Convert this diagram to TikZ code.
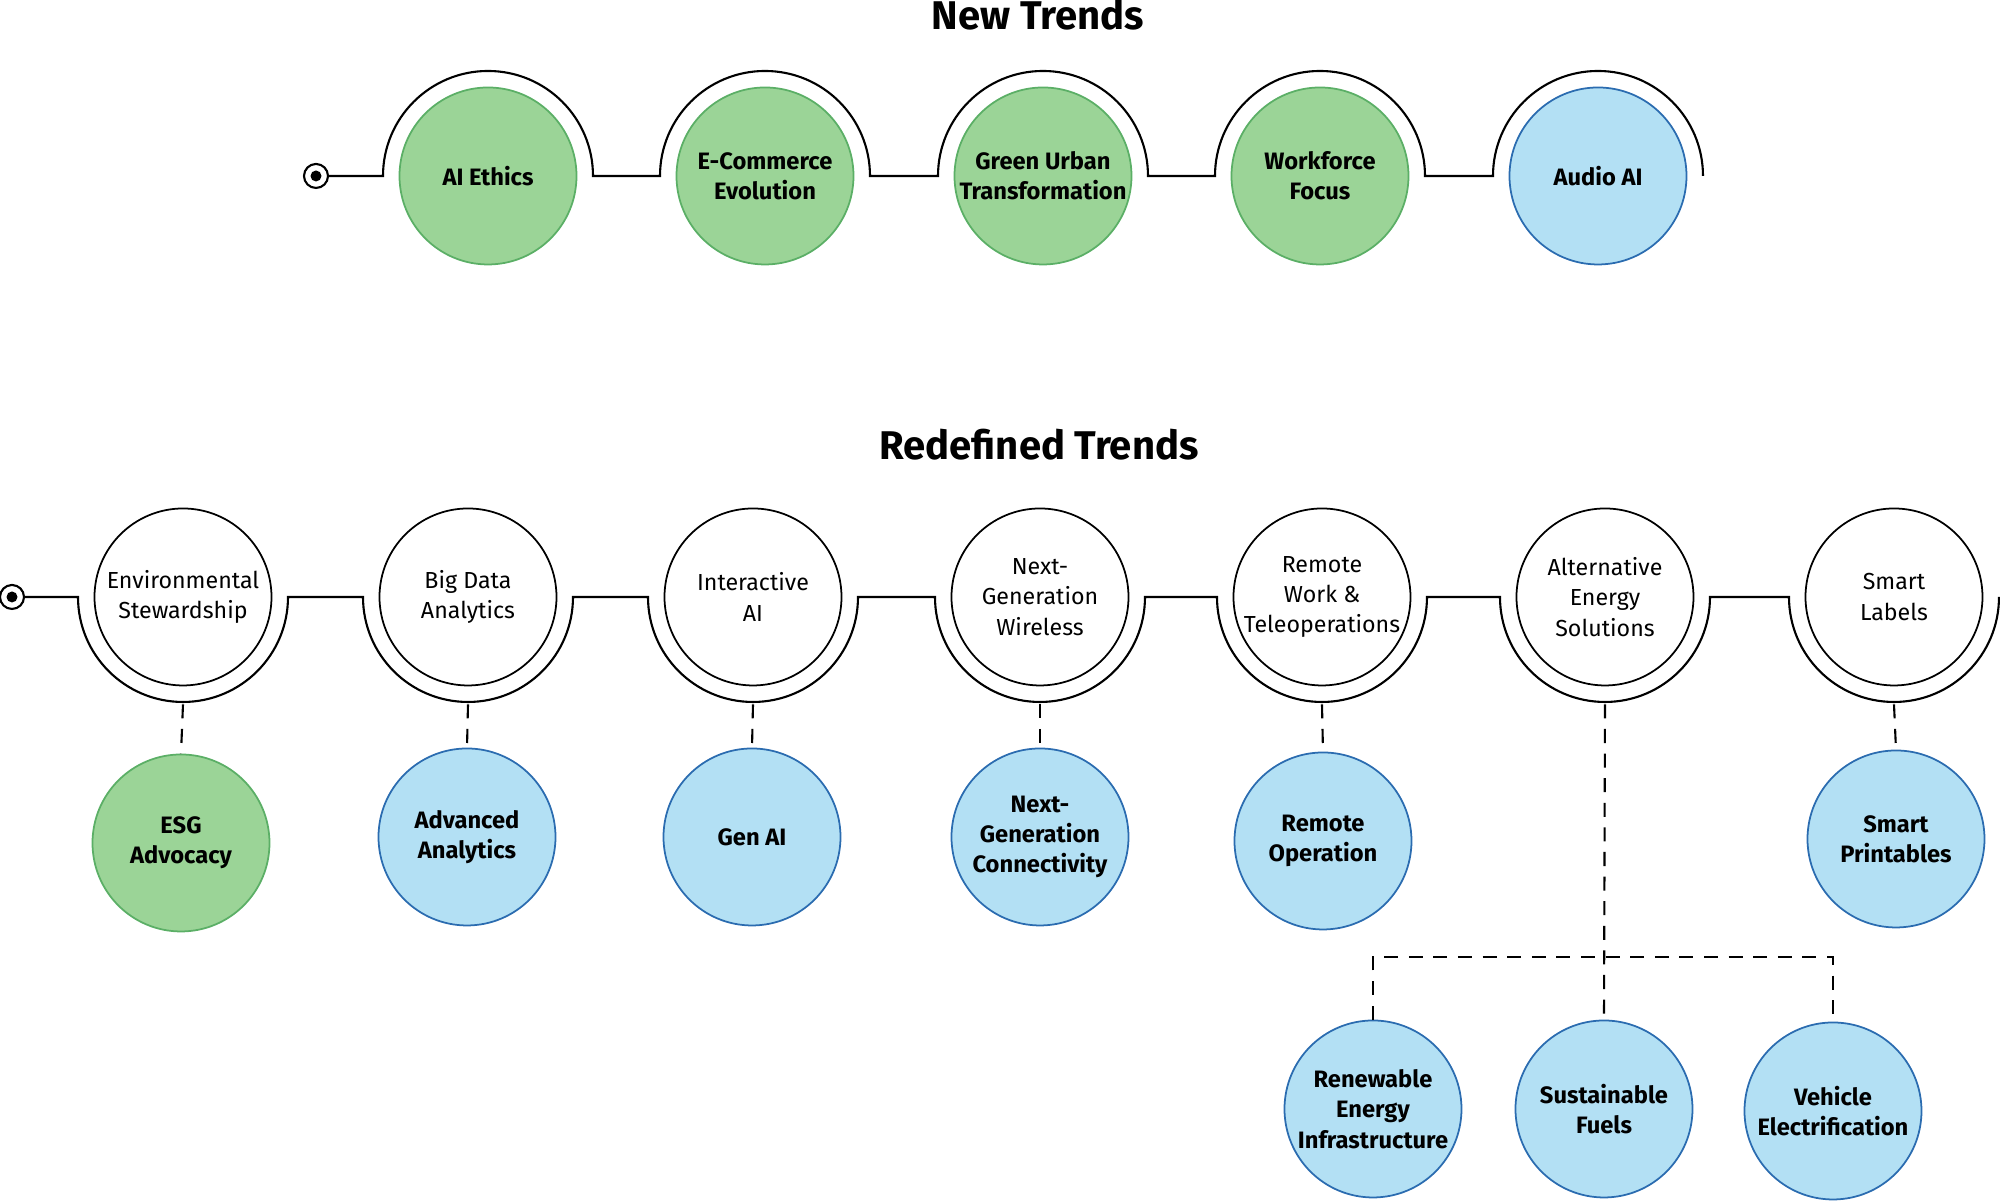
\documentclass[tikz,border=0pt]{standalone}
\usepackage{fontspec}
\setmainfont{Fira Sans}
\usepackage{tikz}
\usepackage{xcolor}
\usetikzlibrary{
    calc,
    positioning
}
\definecolor{newgreen}{HTML}{9BD497}
\definecolor{newgreenline}{HTML}{5BAF66}
\definecolor{newblue}{HTML}{B3E0F4}
\definecolor{newblueline}{HTML}{2B6CB0}
\tikzset{
    % Base trend circle
    trend/.style={
        circle,
        minimum size=1.77cm,
        inner sep=0pt,
        align=center,
        line width=0.5pt,
        font=\fontsize{6.6}{8.6}\selectfont
    },
    % Coloured (new) trend
    newtrend/.style={
        trend,
        draw=#1line,
        fill=#1,
        font=\fontsize{6.75}{8.6}\selectfont\bfseries
    },
    % Plain (redefined) trend
    oldtrend/.style={
        trend,
        draw=black,
        fill=white
    },
    % Timeline track
    track/.style={
        line width=0.6pt,
        draw=black
    },
    % Dashed link
    link/.style={
        line width=0.6pt,
        dash pattern=on 4pt off 3pt
    },
    % Start marker
    start dot/.style={
        circle,
        draw=black,
        fill=white,
        line width=0.6pt,
        minimum size=0.24cm,
        inner sep=0pt
    },
    % Section title style
    section title/.style={
        font=\fontsize{11.4}{13}\selectfont\bfseries,
        anchor=base
    }
}

\begin{document}
\begin{tikzpicture}[x=0.1mm, y=0.1mm]
        \useasboundingbox (0,0) rectangle (2000,1201);

        % Titles
        \node[section title] (newtitle) at (1038,1171) {New Trends};
        \node[section title] (redtitle) at (1039,741) {Redefined Trends};

        % New trends
        \node[start dot] (dot1) at (316,1025) {};
        \fill (dot1) circle[radius=5.5];
        \node[newtrend=newgreen] (n1) at (488,1025) {AI Ethics};
        \node[newtrend=newgreen] (n2) at (765,1025) {E-Commerce\\Evolution};
        \node[newtrend=newgreen] (n3) at (1043,1025) {Green Urban\\Transformation};
        \node[newtrend=newgreen] (n4) at (1320,1025) {Workforce\\Focus};
        \node[newtrend=newblue] (n5) at (1598,1025) {Audio AI};

        \draw[track] (dot1.east) -- ($(n1)+(-105,0)$) arc[start angle=180, end angle=0, radius=105]
            -- ($(n2)+(-105,0)$) arc[start angle=180, end angle=0, radius=105]
            -- ($(n3)+(-105,0)$) arc[start angle=180, end angle=0, radius=105]
            -- ($(n4)+(-105,0)$) arc[start angle=180, end angle=0, radius=105]
            -- ($(n5)+(-105,0)$) arc[start angle=180, end angle=0, radius=105];

        % Redefined trends
        \node[start dot] (dot2) at (12,604) {};
        \fill (dot2) circle[radius=5.5];
        \node[oldtrend] (b1) at (183,604) {Environmental\\Stewardship};
        \node[oldtrend] (b2) at (468,604) {Big Data\\Analytics};
        \node[oldtrend] (b3) at (753,604) {Interactive\\AI};
        \node[oldtrend] (b4) at (1040,604) {Next-\\Generation\\Wireless};
        \node[oldtrend] (b5) at (1322,604) {Remote\\Work \&\\Teleoperations};
        \node[oldtrend] (b6) at (1605,604) {Alternative\\Energy\\Solutions};
        \node[oldtrend] (b7) at (1894,604) {Smart\\Labels};

        \draw[track] (dot2.east) -- ($(b1)+(-105,0)$) arc[start angle=180, end angle=360, radius=105]
            -- ($(b2)+(-105,0)$) arc[start angle=180, end angle=360, radius=105]
            -- ($(b3)+(-105,0)$) arc[start angle=180, end angle=360, radius=105]
            -- ($(b4)+(-105,0)$) arc[start angle=180, end angle=360, radius=105]
            -- ($(b5)+(-105,0)$) arc[start angle=180, end angle=360, radius=105]
            -- ($(b6)+(-105,0)$) arc[start angle=180, end angle=360, radius=105]
            -- ($(b7)+(-105,0)$) arc[start angle=180, end angle=360, radius=105];

        % Redefined outcomes
        \node[newtrend=newgreen] (s1) at (181,358) {ESG\\Advocacy};
        \node[newtrend=newblue] (s2) at (467,364) {Advanced\\Analytics};
        \node[newtrend=newblue] (s3) at (752,364) {Gen AI};
        \node[newtrend=newblue] (s4) at (1040,364) {Next-\\Generation\\Connectivity};
        \node[newtrend=newblue] (s5) at (1323,360) {Remote\\Operation};
        \node[newtrend=newblue] (s6) at (1896,362) {Smart\\Printables};

        \node[newtrend=newblue] (t1) at (1373,92) {Renewable\\Energy\\Infrastructure};
        \node[newtrend=newblue] (t2) at (1604,92) {Sustainable\\Fuels};
        \node[newtrend=newblue] (t3) at (1833,90) {Vehicle\\Electrification};

        % Dashed links
        \draw[link] ([yshift=-1.8mm]b1.south) -- (s1.north);
        \draw[link] ([yshift=-1.8mm]b2.south) -- (s2.north);
        \draw[link] ([yshift=-1.8mm]b3.south) -- (s3.north);
        \draw[link] ([yshift=-1.8mm]b4.south) -- (s4.north);
        \draw[link] ([yshift=-1.8mm]b5.south) -- (s5.north);
        \draw[link] ([yshift=-1.8mm]b7.south) -- (s6.north);

        \coordinate (fork) at (1604,244);
        \draw[link] ([yshift=-1.8mm]b6.south) -- (t2.north);
        \draw[link] (t1.north) -- (t1.north |- fork) -- (t3.north |- fork) -- (t3.north);

    \end{tikzpicture}
\end{document}
